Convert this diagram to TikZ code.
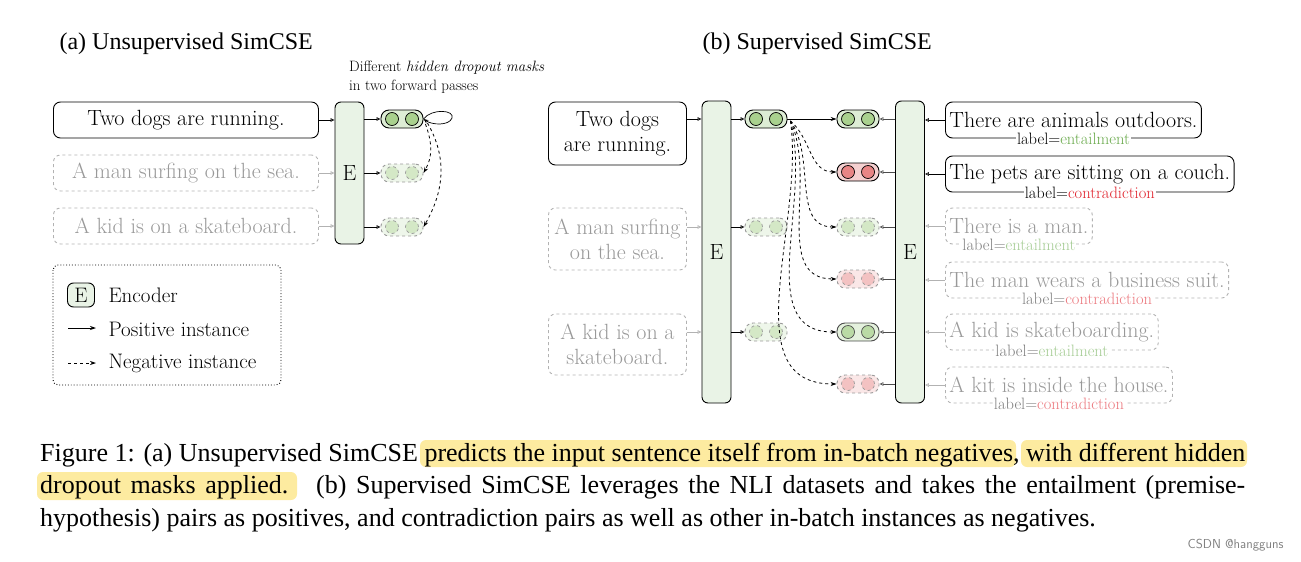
\documentclass[tikz,border=0pt]{standalone}
\usepackage{fontspec}
\setmainfont{Latin Modern Roman}
\newfontfamily\capfont{Liberation Serif}
\usetikzlibrary{arrows.meta,calc}
\definecolor{encg}{HTML}{E9F3E6}
\definecolor{pg}{HTML}{DDEDD5}
\definecolor{cg}{HTML}{A9D18E}
\definecolor{pr}{HTML}{F5D0D0}
\definecolor{cr}{HTML}{E88585}
\definecolor{hl}{HTML}{FDEBA0}
\definecolor{entc}{HTML}{6AAA4C}
\definecolor{conc}{HTML}{E0202A}
\newcommand\sentfont{\fontsize{22}{25}\selectfont}
\newcommand\labfont{\fontsize{16.5}{18}\selectfont}
\newcommand\legfont{\fontsize{21}{24}\selectfont}
\newcommand\pillnode[6]{%
  \node[draw, rounded corners=8pt, minimum width=42pt, minimum height=18pt, inner sep=0pt, fill=#4, line width=0.9pt, #6] (#1) at (#2,#3) {};
  \draw[fill=#5, line width=0.7pt, #6] ($(#1)+(-10,0)$) circle (6.5pt);
  \draw[fill=#5, line width=0.7pt, #6] ($(#1)+(10,0)$) circle (6.5pt);}
\begin{document}
\begin{tikzpicture}[x=1pt,y=-1pt,
  sent/.style={draw, rounded corners=7pt, font=\sentfont, inner xsep=4pt, inner ysep=2pt, minimum height=36pt, line width=0.9pt},
  faded/.style={draw=gray!60, dashed, text=gray!80},
  enc/.style={draw, fill=encg, rounded corners=6pt, line width=0.9pt, font=\sentfont, minimum width=29pt, inner sep=0pt},
  arr/.style={-{Triangle[open,length=4pt,width=3.5pt]}, line width=0.7pt},
  farr/.style={arr, draw=gray!60},
  narr/.style={dashed, -{Stealth[length=6pt,width=4pt]}, line width=0.8pt},
  lab/.style={fill=white, inner sep=1pt, font=\labfont},
  fpill/.style={dashed, draw=gray!80}]
\useasboundingbox (0,0) rectangle (1301,562);
% titles
\node[anchor=west, font=\capfont\fontsize{24}{28}\selectfont] (ta) at (56,44) {(a) Unsupervised SimCSE};
\node[anchor=west, font=\capfont\fontsize{24}{28}\selectfont] (tb) at (699,44) {(b) Supervised SimCSE};
\node[anchor=west, align=left, font=\fontsize{15}{19}\selectfont, inner sep=0pt] (ann) at (349,77) {Different \textit{hidden dropout masks}\\in two forward passes};
% ---------- (a)
\node[sent, anchor=west, minimum width=265pt] (a1) at (53,120) {Two dogs are running.};
\node[sent, faded, anchor=west, minimum width=265pt] (a2) at (53,173) {A man surfing on the sea.};
\node[sent, faded, anchor=west, minimum width=265pt] (a3) at (53,226) {A kid is on a skateboard.};
\node[enc, minimum height=142pt] (Ea) at (349.5,173) {E};
\draw[arr] (a1.east) -- (Ea.west |- a1);
\draw[farr] (a2.east) -- (Ea.west |- a2);
\draw[farr] (a3.east) -- (Ea.west |- a3);
\pillnode{ap1}{402}{119}{pg}{cg}{}
\pillnode{ap2}{402}{173}{pg!50}{cg!50}{fpill}
\pillnode{ap3}{402}{227}{pg!50}{cg!50}{fpill}
\draw[arr] (Ea.east |- ap1) -- (ap1.west);
\draw[arr] (Ea.east |- ap2) -- (ap2.west);
\draw[arr] (Ea.east |- ap3) -- (ap3.west);
\draw[-{Stealth[length=5pt,width=4pt]}, line width=0.7pt] (ap1.east) .. controls (432,108) and (455,110) .. (452,118) .. controls (449,126) and (432,125) .. (ap1.east);
\draw[narr] ($(ap1.east)+(2,5)$) to[out=-70,in=60] (ap2.east);
\draw[narr] ($(ap1.east)+(4,4)$) to[out=-60,in=60] (ap3.east);
% legend
\draw[dotted, line width=0.9pt, rounded corners=5pt] (53,265) rectangle (281,385);
\node[enc, minimum height=24pt, minimum width=27pt, font=\legfont] (le) at (81,295) {E};
\node[anchor=west, font=\legfont] (lt1) at (105,295) {Encoder};
\coordinate (l2a) at (68,328); \coordinate (l2b) at (96,328);
\coordinate (l3a) at (68,363); \coordinate (l3b) at (96,363);
\draw[-{Stealth[length=6pt,width=4pt]}, line width=0.8pt] (l2a) -- (l2b);
\draw[narr] (l3a) -- (l3b);
\node[anchor=west, font=\legfont] (lt2) at (105,329) {Positive instance};
\node[anchor=west, font=\legfont] (lt3) at (105,363) {Negative instance};
% ---------- (b)
\node[sent, align=center, minimum width=138pt, minimum height=63pt, anchor=west] (b1) at (548,133.5) {Two dogs\\are running.};
\node[sent, faded, align=center, minimum width=138pt, minimum height=62pt, anchor=west] (b2) at (548,239) {A man surfing\\on the sea.};
\node[sent, faded, align=center, minimum width=138pt, minimum height=61pt, anchor=west] (b3) at (548,344.5) {A kid is on a\\skateboard.};
\node[enc, minimum height=302pt] (Eb) at (716.5,252) {E};
\node[enc, minimum height=302pt] (Ec) at (910,252) {E};
\pillnode{bp1}{766}{119}{pg}{cg}{}
\pillnode{bp2}{766}{227}{pg!50}{cg!50}{fpill}
\pillnode{bp3}{766}{332}{pg!50}{cg!50}{fpill}
\draw[arr] (b1.east |- bp1) -- (Eb.west |- bp1);
\draw[farr] (b2.east |- bp2) -- (Eb.west |- bp2);
\draw[farr] (b3.east |- bp3) -- (Eb.west |- bp3);
\draw[arr] (Eb.east |- bp1) -- (bp1.west);
\draw[arr] (Eb.east |- bp2) -- (bp2.west);
\draw[arr] (Eb.east |- bp3) -- (bp3.west);
\pillnode{cp1}{858}{119}{pg}{cg}{}
\pillnode{cp2}{858}{172}{pr}{cr}{}
\pillnode{cp3}{858}{227}{pg!50}{cg!50}{fpill}
\pillnode{cp4}{858}{279}{pr!50}{cr!50}{fpill}
\pillnode{cp5}{858}{332}{pg!80}{cg!80}{draw=black!70}
\pillnode{cp6}{858}{384}{pr!50}{cr!50}{fpill}
\draw[-{Stealth[length=6pt,width=4pt]}, line width=0.8pt] (bp1.east) -- (cp1.west);
\foreach \i/\o in {2/-40,3/-55,4/-65,5/-75,6/-82}{
  \draw[narr] ($(bp1.east)+(3,2)$) to[out=\o,in=180] (cp\i.west);}
% right sentences
\node[sent, anchor=west] (c1) at (945,120) {There are animals outdoors.};
\node[sent, anchor=west] (c2) at (945,174) {The pets are sitting on a couch.};
\node[sent, faded, anchor=west] (c3) at (945,226) {There is a man.};
\node[sent, faded, anchor=west] (c4) at (945,280) {The man wears a business suit.};
\node[sent, faded, anchor=west] (c5) at (945,332) {A kid is skateboarding.};
\node[sent, faded, anchor=west] (c6) at (945,385) {A kit is inside the house.};
\node[lab] (l1) at (c1.south) {label=\textcolor{entc}{entailment}};
\node[lab] (l2) at (c2.south) {label=\textcolor{conc}{contradiction}};
\node[lab, text=gray] (l3) at (c3.south) {label=\textcolor{entc!60}{entailment}};
\node[lab, text=gray] (l4) at (c4.south) {label=\textcolor{conc!60}{contradiction}};
\node[lab, text=gray] (l5) at (c5.south) {label=\textcolor{entc!60}{entailment}};
\node[lab, text=gray] (l6) at (c6.south) {label=\textcolor{conc!60}{contradiction}};
\draw[arr] (c1.west) -- (Ec.east |- c1);
\draw[arr] (c2.west) -- (Ec.east |- c2);
\foreach \i in {3,4,5,6}{\draw[farr] (c\i.west) -- (Ec.east |- c\i);}
\foreach \i in {1,...,6}{\draw[arr, draw=black!70] (Ec.west |- cp\i) -- (cp\i.east);}
% caption
\fill[hl, rounded corners=6pt] (420,440) rectangle (1016,467);
\fill[hl, rounded corners=6pt] (1021,440) rectangle (1247,467);
\fill[hl, rounded corners=6pt] (37,472) rectangle (297,500);
\node[anchor=base west, inner sep=0pt, font=\capfont\fontsize{26}{30}\selectfont] (cap1) at (40,461) {\hbox to 1205pt{Figure 1: (a) Unsupervised SimCSE predicts the input sentence itself from in-batch negatives, with different hidden}};
\node[anchor=base west, inner sep=0pt, font=\capfont\fontsize{26}{30}\selectfont] (cap2) at (40,493) {\hbox to 1205pt{dropout masks applied. \ (b) Supervised SimCSE leverages the NLI datasets and takes the entailment (premise-}};
\node[anchor=base west, inner sep=0pt, font=\capfont\fontsize{26}{30}\selectfont] (cap3) at (40,526) {hypothesis) pairs as positives, and contradiction pairs as well as other in-batch instances as negatives.};
\node[anchor=east, text=gray, font=\fontsize{13}{15}\selectfont\sffamily] (wm) at (1287,545) {CSDN @hangguns};
\end{tikzpicture}
\end{document}
